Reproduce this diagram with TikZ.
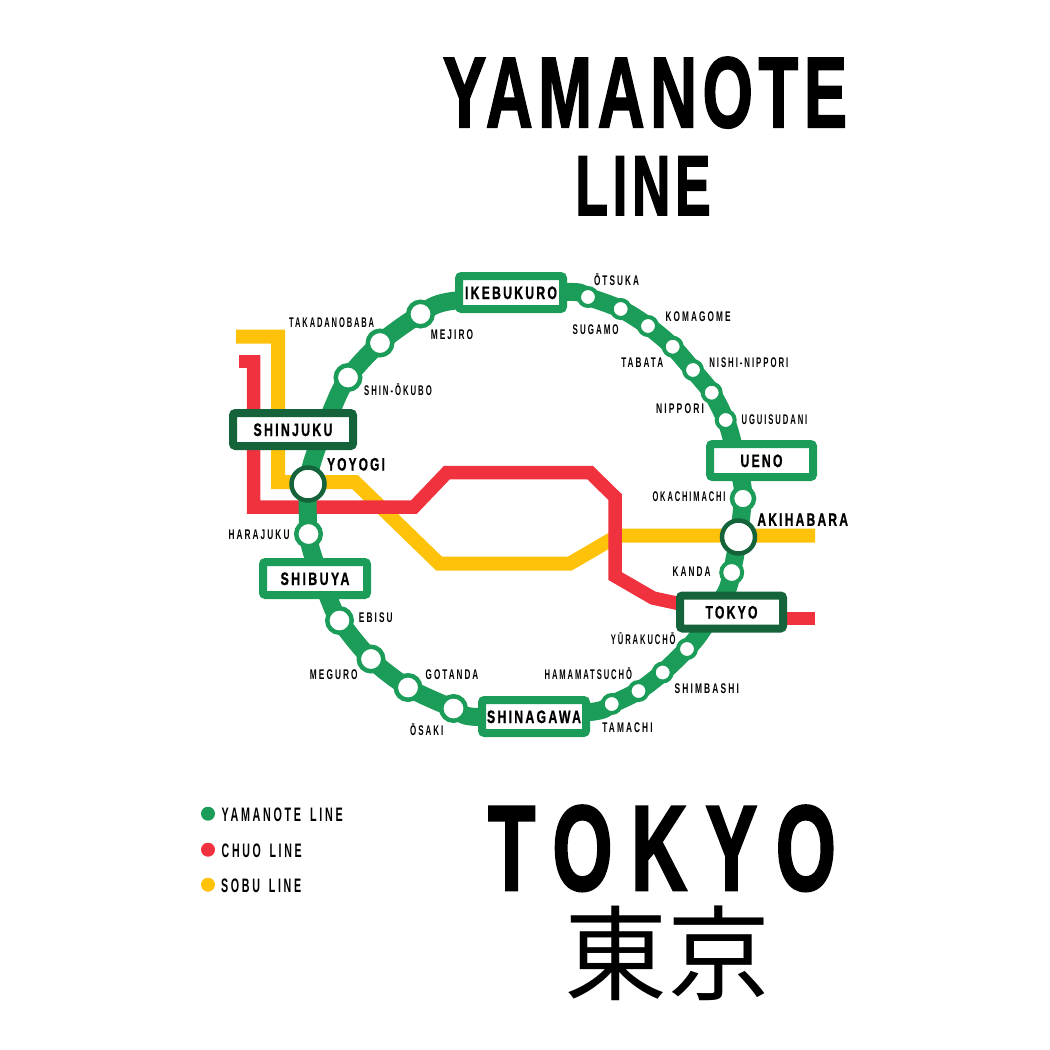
\documentclass[tikz,border=0pt]{standalone}
\usepackage{fontspec}
\usepackage{graphicx}
\usetikzlibrary{backgrounds}
\setmainfont{Liberation Sans}
\newfontfamily\cjk{Noto Sans CJK JP}
\newfontfamily\titlef{Liberation Sans}[BoldFeatures={FakeBold=2.2}]
\newfontfamily\heavyf{Liberation Sans}[BoldFeatures={FakeBold=1}]
\definecolor{yam}{HTML}{1B9C58}
\definecolor{yamd}{HTML}{14633A}
\definecolor{chuo}{HTML}{F0323F}
\definecolor{sobu}{HTML}{FFC20A}
\tikzset{
 x=1pt,y=-1pt,
 sobuline/.style={draw=sobu,line width=14pt,line join=miter},
 chuoline/.style={draw=chuo,line width=13.5pt,line join=miter},
 track/.style={draw=yam,line width=18pt},
 stn/.style={circle,draw=yam,fill=white,line width=4.5pt,minimum size=24.5pt,inner sep=0pt},
 stnS/.style={stn,minimum size=18pt,line width=4pt},
 stnM/.style={stn,minimum size=21pt,line width=4pt},
 hub/.style={circle,draw=yamd,fill=white,line width=4.5pt,minimum size=33pt,inner sep=0pt},
 boxg/.style={draw=yam,fill=white,line width=8pt,rounded corners=2.5pt,inner sep=0pt,minimum height=33pt,text height=13pt,text depth=0pt,font=\heavyf\bfseries\fontsize{18}{18}\selectfont},
 boxd/.style={boxg,draw=yamd},
 lab/.style={font=\bfseries\fontsize{14}{14}\selectfont,inner sep=0pt,anchor=base,text=black},
 labb/.style={font=\heavyf\bfseries\fontsize{18}{18}\selectfont,inner sep=0pt,anchor=base,text=black},
 leg/.style={font=\bfseries\fontsize{19.5}{20}\selectfont,inner sep=0pt,anchor=base west,text=black},
 legdot/.style={circle,inner sep=0pt,minimum size=14pt},
 ttl/.style={inner sep=0pt,anchor=base,text=black},
}
\newcommand{\fw}[2]{\resizebox{#1pt}{\height}{\addfontfeature{LetterSpace=25}#2}}
\newcommand{\fb}[2]{\resizebox{#1pt}{\height}{\addfontfeature{LetterSpace=18}#2}}
\newcommand{\ft}[3]{\resizebox{#1pt}{\height}{\addfontfeature{LetterSpace=#2}#3}}
\begin{document}
\begin{tikzpicture}
\useasboundingbox (0,0) rectangle (1050,1050);
% titles
\node[ttl,font=\titlef\bfseries\fontsize{100}{100}\selectfont] (t1) at (645,127) {\ft{404}{9}{YAMANOTE}};
\node[ttl,font=\titlef\bfseries\fontsize{85}{85}\selectfont] (t2) at (643,215) {\ft{135}{9}{LINE}};
\node[ttl,font=\titlef\bfseries\fontsize{121}{121}\selectfont] (t3) at (662,890) {\ft{348}{24}{TOKYO}};
\node[ttl,font=\cjk\fontsize{103}{103}\selectfont,anchor=center,text height=82pt,text depth=0pt] (t4) at (667,951) {東京};
% line coordinates
\coordinate (so0) at (236,336.5);
\coordinate (so1) at (278,336.5);
\coordinate (so2) at (278,482);
\coordinate (so3) at (355,482);
\coordinate (so4) at (439,563.5);
\coordinate (so5) at (570,563.5);
\coordinate (so6) at (618,535.5);
\coordinate (so7) at (815,535.5);
\coordinate (chf) at (239,361.7);
\coordinate (ch0) at (253.5,355);
\coordinate (ch1) at (253.5,361.7);
\coordinate (ch2) at (253.5,507);
\coordinate (ch3) at (414,507);
\coordinate (ch4) at (447,472.5);
\coordinate (ch5) at (590,472.5);
\coordinate (ch6) at (615,497);
\coordinate (ch7) at (615,576);
\coordinate (ch8) at (653,598);
\coordinate (ch9) at (690,606);
\coordinate (ch10) at (815,618.5);
\coordinate (ch11) at (770,618.5);
% ring pass points
\coordinate (r1) at (567,292);
\coordinate (r2) at (732,440);
\coordinate (r3) at (741.5,481);
\coordinate (r4) at (726,592);
\coordinate (r5) at (701,632);
\coordinate (r6) at (590,712);
\coordinate (r7) at (478,717);
\coordinate (r8) at (329,599);
\coordinate (r9) at (313,556);
\coordinate (r10) at (314.5,455);
\coordinate (r11) at (333,407);
\coordinate (r12) at (452,301);
% stations
\node[stn] (mejiro) at (420.5,314) {};
\node[stn] (takada) at (380,343) {};
\node[stn] (shinok) at (348,377.5) {};
\node[hub] (yoyogi) at (308,484) {};
\node[stn] (haraj) at (308.5,534) {};
\node[stn] (ebisu) at (339.5,620.5) {};
\node[stn] (meguro) at (371,659) {};
\node[stn] (gotanda) at (408,687.5) {};
\node[stn] (osaki) at (453.5,708.5) {};
\node[stnS] (tamachi) at (611.7,704) {};
\node[stnS] (hama) at (638.5,691) {};
\node[stnS] (shimb) at (662.7,672.5) {};
\node[stnS] (yura) at (687,649) {};
\node[stnM] (kanda) at (731.7,572.5) {};
\node[hub] (akiha) at (738.5,537) {};
\node[stn,minimum size=22pt] (oka) at (743,498.5) {};
\node[stnS] (ugu) at (725.7,420) {};
\node[stnS] (nippori) at (711.7,392.7) {};
\node[stnS] (nishi) at (693,370) {};
\node[stnS] (tabata) at (672.7,346.7) {};
\node[stnS] (koma) at (648,326) {};
\node[stnS] (sugamo) at (620.7,309) {};
\node[stnS] (otsuka) at (588,297) {};
% boxes
\node[boxg,minimum width=104pt] (ike) at (511,292.5) {\fb{92}{IKEBUKURO}};
\node[boxg,minimum width=103pt] (ueno) at (761.5,460.5) {\fb{42}{UENO}};
\node[boxd,minimum width=120pt] (shinjuku) at (293,429.5) {\fb{79}{SHINJUKU}};
\node[boxg,minimum width=104pt] (shibuya) at (315,578.5) {\fb{69}{SHIBUYA}};
\node[boxg,minimum width=104pt] (shinagawa) at (534,716.5) {\fb{94}{SHINAGAWA}};
\node[boxd,minimum width=103pt] (tokyo) at (731.5,612) {\fb{52}{TOKYO}};
% lines under everything
\begin{scope}[on background layer]
\draw[sobuline] (so0) -- (so1) -- (so2) -- (so3) -- (so4) -- (so5) -- (so6) -- (so7);
\draw[chuoline] (chf) -- (ch1);
\draw[chuoline] (ch0) -- (ch2) -- (ch3) -- (ch4) -- (ch5) -- (ch6) -- (ch7) -- (ch8) -- (ch9);
\draw[chuoline] (ch11) -- (ch10);
\draw[track] plot[smooth cycle,tension=0.5] coordinates {(r1) (otsuka.center) (sugamo.center) (koma.center) (tabata.center) (nishi.center) (nippori.center) (ugu.center) (r2) (r3) (oka.center) (akiha.center) (kanda.center) (r4) (r5) (yura.center) (shimb.center) (hama.center) (tamachi.center) (r6) (r7) (osaki.center) (gotanda.center) (meguro.center) (ebisu.center) (r8) (r9) (haraj.center) (yoyogi.center) (r10) (r11) (shinok.center) (takada.center) (mejiro.center) (r12)};
\end{scope}
% labels
\node[lab] (l1) at (331.7,327) {\fw{85}{TAKADANOBABA}};
\node[lab] (l2) at (452,339) {\fw{42.5}{MEJIRO}};
\node[lab] (l3) at (398,395.7) {\fw{67.7}{SHIN-ŌKUBO}};
\node[labb] (l4) at (356,470.5) {\fb{57.7}{YOYOGI}};
\node[lab] (l5) at (259,539.5) {\fw{61}{HARAJUKU}};
\node[lab] (l6) at (375.8,622) {\fw{33.7}{EBISU}};
\node[lab] (l7) at (333.8,679.7) {\fw{47.7}{MEGURO}};
\node[lab] (l8) at (452,679.7) {\fw{52.7}{GOTANDA}};
\node[lab] (l9) at (426.7,735) {\fw{33.3}{ŌSAKI}};
\node[lab] (l10) at (627.5,732) {\fw{50.3}{TAMACHI}};
\node[lab] (l11) at (588.3,679) {\fw{87.3}{HAMAMATSUCHŌ}};
\node[lab] (l12) at (706.8,693) {\fw{64.3}{SHIMBASHI}};
\node[lab] (l13) at (643.3,644.3) {\fw{64.7}{YŪRAKUCHŌ}};
\node[lab] (l14) at (691.7,576.7) {\fw{38}{KANDA}};
\node[labb] (l15) at (802.7,525.8) {\fb{90.7}{AKIHABARA}};
\node[lab] (l16) at (689,501) {\fw{73}{OKACHIMACHI}};
\node[lab] (l17) at (774.5,424.3) {\fw{65.7}{UGUISUDANI}};
\node[lab] (l18) at (680,413.3) {\fw{48}{NIPPORI}};
\node[lab] (l19) at (748.8,367.7) {\fw{79}{NISHI-NIPPORI}};
\node[lab] (l20) at (642.3,367) {\fw{42}{TABATA}};
\node[lab] (l21) at (698.2,321) {\fw{65}{KOMAGOME}};
\node[lab] (l22) at (595.7,334) {\fw{46}{SUGAMO}};
\node[lab] (l23) at (616.5,285) {\fw{45}{ŌTSUKA}};
% legend
\node[legdot,fill=yam] (d1) at (208,813.7) {};
\node[legdot,fill=chuo] (d2) at (208,849.7) {};
\node[legdot,fill=sobu] (d3) at (208,884.7) {};
\node[leg] (g1) at (221.5,821) {\fw{121}{YAMANOTE\hspace{0.3em} LINE}};
\node[leg] (g2) at (221.5,857) {\fw{80}{CHUO\hspace{0.3em} LINE}};
\node[leg] (g3) at (221,892) {\fw{80}{SOBU\hspace{0.3em} LINE}};
\end{tikzpicture}
\end{document}
